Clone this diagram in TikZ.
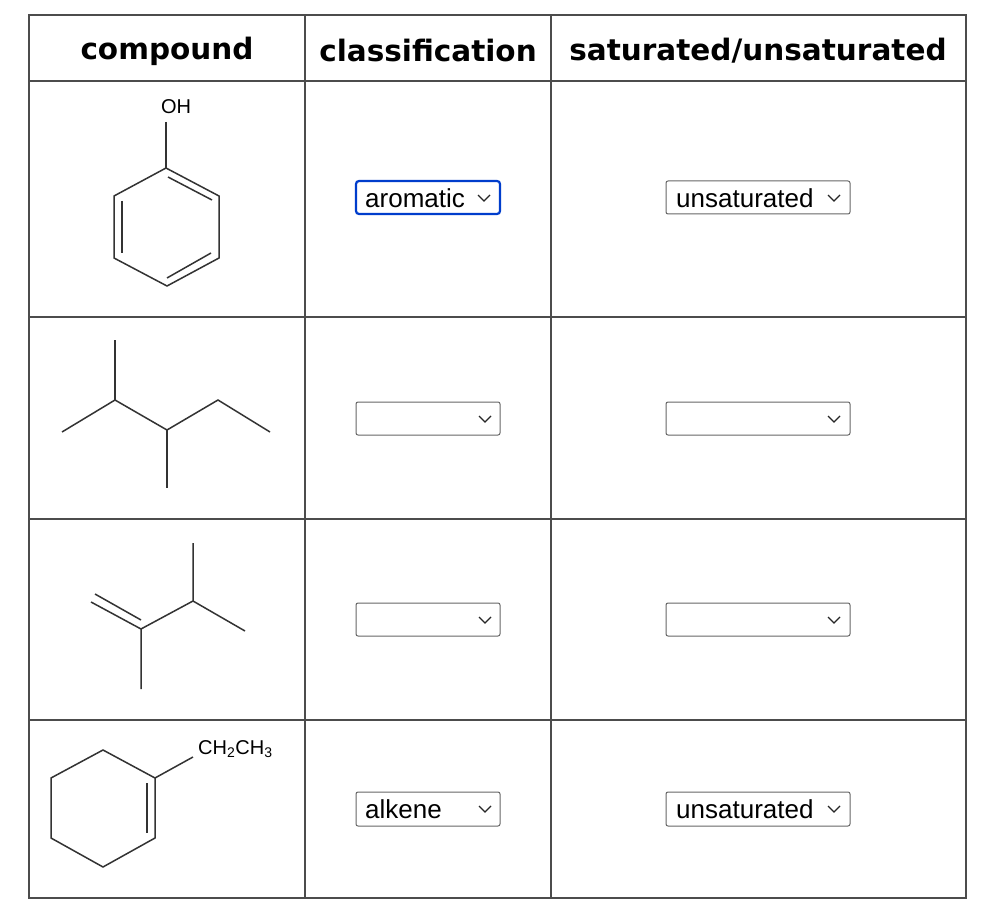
\documentclass[tikz,border=0pt]{standalone}
\usepackage{fontspec}
\setmainfont{Liberation Sans}
\newfontfamily\hdr{DejaVu Sans}
\begin{document}
\begin{tikzpicture}[x=1pt,y=-1pt,
  grid/.style={draw=black!70,line width=1.2pt},
  bond/.style={draw=black!80,line width=1.5pt},
  hd/.style={font=\hdr\bfseries\fontsize{29.5}{32}\selectfont,anchor=center},
  dd/.style={draw=black!60,line width=1pt,rounded corners=2pt},
  ddsel/.style={draw=blue!70!cyan!80!black,line width=2.2pt,rounded corners=3pt},
  ddtxt/.style={font=\fontsize{26}{28}\selectfont,anchor=west,inner sep=0pt},
  chem/.style={font=\fontsize{20}{22}\selectfont,inner sep=0pt}]
\useasboundingbox (0,0) rectangle (986,920);
\fill[white] (0,0) rectangle (986,920);
% grid
\draw[grid] (29,15) rectangle (966,898);
\foreach \x in {305,551} \draw[grid] (\x,15) -- (\x,898);
\foreach \y in {81,317,519,720} \draw[grid] (29,\y) -- (966,\y);
\node[hd] (h1) at (167,51) {compound};
\node[hd] (h2) at (428,51) {classification};
\node[hd] (h3) at (758,51) {saturated/unsaturated};
% dropdowns
\newcommand{\chev}[2]{\draw[black!85,line width=1.3pt] (#1-6,#2-3) -- (#1,#2+3) -- (#1+6,#2-3);}
\draw[ddsel] (356,181) rectangle (500,214);
\node[ddtxt] (t1) at (365,198) {aromatic}; \chev{484}{198}
\draw[dd] (666,181) rectangle (850,214);
\node[ddtxt] (t2) at (676,198) {unsaturated}; \chev{834}{198}
\draw[dd] (356,402) rectangle (500,435); \chev{485}{419}
\draw[dd] (666,402) rectangle (850,435); \chev{834}{419}
\draw[dd] (356,603) rectangle (500,636); \chev{485}{620}
\draw[dd] (666,603) rectangle (850,636); \chev{834}{620}
\draw[dd] (356,792) rectangle (500,826);
\node[ddtxt] (t3) at (365,809) {alkene}; \chev{485}{809}
\draw[dd] (666,792) rectangle (850,826);
\node[ddtxt] (t4) at (676,809) {unsaturated}; \chev{834}{809}
% phenol
\node[chem] (oh) at (176,107) {OH};
\draw[bond] (166,122) -- (166,168);
\draw[bond] (166,168) -- (219,196) -- (219,258) -- (167,286) -- (114,258) -- (114,196) -- cycle;
\draw[bond] (168,177) -- (212,200);
\draw[bond] (122,201) -- (122,253);
\draw[bond] (167,278) -- (211,253);
% molecule 2
\draw[bond] (115,340) -- (115,400);
\draw[bond] (62,432) -- (115,400) -- (167,430) -- (218,400) -- (270,432);
\draw[bond] (167,430) -- (167,488);
% molecule 3
\draw[bond] (193,543) -- (193,601) -- (245,631);
\draw[bond] (193,601) -- (141,629) -- (141,689);
\draw[bond] (141,629) -- (91,602);
\draw[bond] (141,620) -- (95,594);
% molecule 4
\draw[bond] (103,750) -- (155,778) -- (155,838) -- (103,867) -- (51,838) -- (51,778) -- cycle;
\draw[bond] (147,783) -- (147,833);
\draw[bond] (155,778) -- (193,757);
\node[chem,anchor=west] (et) at (198,749) {CH\textsubscript{2}CH\textsubscript{3}};
\end{tikzpicture}
\end{document}
